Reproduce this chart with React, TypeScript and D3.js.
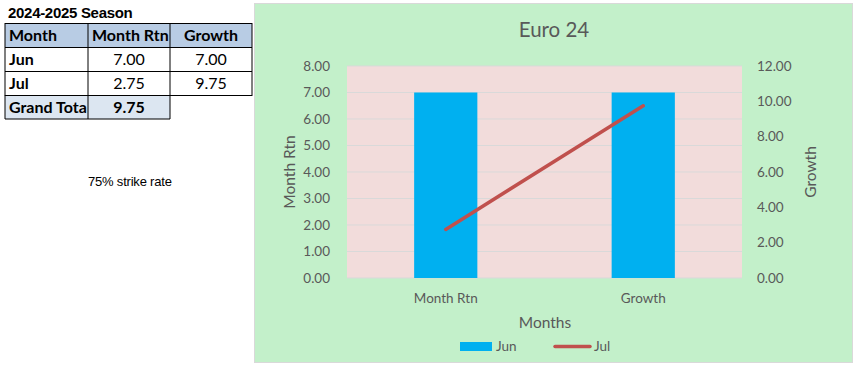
import * as d3 from 'd3';

// table data
const tableTitle = '2024-2025 Season';
const tableHeaders = ['Month', 'Month Rtn', 'Growth'];
const months = ['Jun', 'Jul'];
const monthRtn = [7.0, 2.75];
const growth = [7.0, 9.75];
const grandTotal = 9.75;
const note = '75% strike rate';

// chart data
const chartTitle = 'Euro 24';
const categories = ['Month Rtn', 'Growth'];
const junValues = [7.0, 7.0];
const julValues = [2.75, 9.75];
const leftTicks = [0, 1, 2, 3, 4, 5, 6, 7, 8];
const rightTicks = [0, 2, 4, 6, 8, 10, 12];

const W = 859;
const H = 367;
const PLOT = { left: 347, right: 742, top: 66, bottom: 278 };
const TEXT = '#595959';
const FONT = 'Lato, "Open Sans", sans-serif';

const COLS = [5, 88, 170, 252];
const ROWS = [23.5, 47.5, 71.5, 95.5, 119];

const Table = () => {
  const cell = (text: string, col: number, row: number, opts: { bold?: boolean; align?: 'start' | 'middle' } = {}) => {
    const x0 = COLS[col];
    const x1 = COLS[col + 1];
    const y = (ROWS[row] + ROWS[row + 1]) / 2 + 5.5;
    const x = opts.align === 'start' ? x0 + 4 : (x0 + x1) / 2;
    const id = `clip-${col}-${row}`;
    return (
      <g key={id}>
        <clipPath id={id}>
          <rect x={x0} y={ROWS[row]} width={x1 - x0 - 1} height={ROWS[row + 1] - ROWS[row]} />
        </clipPath>
        <text
          x={x}
          y={y}
          textAnchor={opts.align || 'middle'}
          fontWeight={opts.bold ? 'bold' : 'normal'}
          clipPath={`url(#${id})`}
          fontSize={16}
          fill="#000"
        >
          {text}
        </text>
      </g>
    );
  };

  return (
    <g fontFamily={FONT}>
      <text x={8} y={18} fontFamily="'Liberation Sans', Arial, sans-serif" fontWeight="bold" fontSize={15} letterSpacing={-0.3}>
        {tableTitle}
      </text>
      {/* header fill */}
      <rect x={COLS[0]} y={ROWS[0]} width={COLS[3] - COLS[0]} height={ROWS[1] - ROWS[0]} fill="#B8CCE4" />
      {/* grand total fill */}
      <rect x={COLS[0]} y={ROWS[3]} width={COLS[2] - COLS[0]} height={ROWS[4] - ROWS[3]} fill="#DCE6F1" />
      {/* borders */}
      <g stroke="#000" strokeWidth={1} fill="none">
        <rect x={COLS[0]} y={ROWS[0]} width={COLS[3] - COLS[0]} height={ROWS[3] - ROWS[0]} />
        {[1, 2].map((r) => (
          <line key={r} x1={COLS[0]} x2={COLS[3]} y1={ROWS[r]} y2={ROWS[r]} />
        ))}
        <line x1={COLS[1]} x2={COLS[1]} y1={ROWS[0]} y2={ROWS[4]} />
        <line x1={COLS[2]} x2={COLS[2]} y1={ROWS[0]} y2={ROWS[4]} />
        <line x1={COLS[0]} x2={COLS[0]} y1={ROWS[3]} y2={ROWS[4]} />
        <line x1={COLS[0]} x2={COLS[2]} y1={ROWS[4]} y2={ROWS[4]} />
      </g>
      {tableHeaders.map((h, i) => cell(h, i, 0, { bold: true, align: i < 2 ? 'start' : 'middle' }))}
      {months.map((m, i) => (
        <g key={m}>
          {cell(m, 0, i + 1, { bold: true, align: 'start' })}
          {cell(monthRtn[i].toFixed(2), 1, i + 1)}
          {cell(growth[i].toFixed(2), 2, i + 1)}
        </g>
      ))}
      {cell('Grand Total', 0, 3, { bold: true, align: 'start' })}
      {cell(grandTotal.toFixed(2), 1, 3, { bold: true })}
      <text x={88} y={186} fontFamily="'Liberation Sans', Arial, sans-serif" fontSize={13} letterSpacing={-0.2}>
        {note}
      </text>
    </g>
  );
};

const Chart = () => {
  const x = d3.scaleBand<string>().domain(categories).range([PLOT.left, PLOT.right]);
  const yLeft = d3.scaleLinear().domain([0, 8]).range([PLOT.bottom, PLOT.top]);
  const yRight = d3.scaleLinear().domain([0, 12]).range([PLOT.bottom, PLOT.top]);
  const barW = x.bandwidth() * 0.32;

  const line = d3
    .line<number>()
    .x((_, i) => (x(categories[i]) as number) + x.bandwidth() / 2)
    .y((d) => yRight(d));

  return (
    <g fontFamily={FONT} fill={TEXT}>
      <rect x={254.5} y={3.5} width={598} height={359} fill="#C3F0CA" stroke="#D9D9D9" />
      <text x={554} y={37} textAnchor="middle" fontSize={20.5}>
        {chartTitle}
      </text>
      <rect x={PLOT.left} y={PLOT.top} width={PLOT.right - PLOT.left} height={PLOT.bottom - PLOT.top} fill="#F2DCDB" />
      {leftTicks.map((t) => (
        <g key={t}>
          <line x1={PLOT.left} x2={PLOT.right} y1={yLeft(t)} y2={yLeft(t)} stroke="#D9D9D9" strokeWidth={1} />
          <text x={330} y={yLeft(t) + 4.5} textAnchor="end" fontSize={13.5}>
            {t.toFixed(2)}
          </text>
        </g>
      ))}
      {rightTicks.map((t) => (
        <text key={t} x={757} y={yRight(t) + 4.5} fontSize={13.5}>
          {t.toFixed(2)}
        </text>
      ))}
      {junValues.map((v, i) => {
        const cx = (x(categories[i]) as number) + x.bandwidth() / 2;
        return <rect key={i} x={cx - barW / 2} y={yLeft(v)} width={barW} height={yLeft(0) - yLeft(v)} fill="#00B0F0" />;
      })}
      <path d={line(julValues) || ''} fill="none" stroke="#C0504D" strokeWidth={3.5} strokeLinecap="round" />
      {categories.map((c) => (
        <text key={c} x={(x(c) as number) + x.bandwidth() / 2} y={303} textAnchor="middle" fontSize={13.5}>
          {c}
        </text>
      ))}
      <text x={545} y={328} textAnchor="middle" fontSize={15.5}>
        Months
      </text>
      <text transform={`translate(295,172) rotate(-90)`} textAnchor="middle" fontSize={15.5}>
        Month Rtn
      </text>
      <text transform={`translate(816,172) rotate(-90)`} textAnchor="middle" fontSize={15.5}>
        Growth
      </text>
      {/* legend */}
      <rect x={460} y={342} width={32} height={9} fill="#00B0F0" />
      <text x={496} y={351} fontSize={13.5}>
        Jun
      </text>
      <line x1={555} x2={590} y1={346.5} y2={346.5} stroke="#C0504D" strokeWidth={3.5} strokeLinecap="round" />
      <text x={594} y={351} fontSize={13.5}>
        Jul
      </text>
    </g>
  );
};

export default function App() {
  return (
    <svg width={W} height={H} style={{ position: 'absolute', left: 0, top: 0, background: '#fff' }}>
      <Table />
      <Chart />
    </svg>
  );
}
